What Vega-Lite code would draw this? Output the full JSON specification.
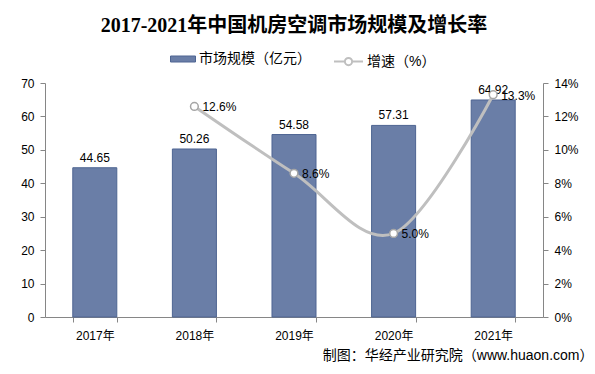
{
  "$schema": "https://vega.github.io/schema/vega-lite/v6.json",
  "autosize": {"type": "none"},
  "width": 498,
  "height": 234,
  "padding": {"left": 45, "top": 83, "right": 52, "bottom": 57},
  "background": "white",
  "config": {
    "font": "Liberation Sans, Noto Sans CJK SC",
    "view": {"stroke": null},
    "axis": {"grid": false, "domainColor": "#868686", "tickColor": "#868686", "labelColor": "#000000", "labelFontSize": 12, "tickSize": 5, "labelOverlap": false, "labelFont": "Liberation Sans, Noto Sans CJK SC"},
    "legend": {"labelFontSize": 14, "labelColor": "#000000", "labelOffset": 3, "labelFont": "Liberation Sans, Noto Sans CJK SC"}
  },
  "title": {
    "text": "2017-2021年中国机房空调市场规模及增长率",
    "font": "Liberation Serif, Noto Sans CJK SC",
    "fontSize": 20,
    "fontWeight": "bold",
    "color": "#000000",
    "anchor": "middle",
    "offset": 10
  },
  "data": {
    "values": [
      {"year": "2017年", "value": 44.65, "rate": null, "s1": "市场规模（亿元）", "s2": "增速（%）"},
      {"year": "2018年", "value": 50.26, "rate": 12.6, "s1": "市场规模（亿元）", "s2": "增速（%）"},
      {"year": "2019年", "value": 54.58, "rate": 8.6, "s1": "市场规模（亿元）", "s2": "增速（%）"},
      {"year": "2020年", "value": 57.31, "rate": 5.0, "s1": "市场规模（亿元）", "s2": "增速（%）"},
      {"year": "2021年", "value": 64.92, "rate": 13.3, "s1": "市场规模（亿元）", "s2": "增速（%）"}
    ]
  },
  "encoding": {
    "x": {
      "field": "year", "type": "nominal", "sort": null,
      "scale": {"paddingInner": 0.558, "paddingOuter": 0.279},
      "axis": {"labelAngle": 0, "tickBand": "extent", "labelPadding": 8, "title": "制图：华经产业研究院（www.huaon.com）", "titleFontSize": 14, "titleFontWeight": "normal", "titleColor": "#000000", "titleAnchor": "end", "titleAlign": "right", "titleX": 548, "titleY": 31, "titleFont": "Liberation Sans, Noto Sans CJK SC"}
    }
  },
  "layer": [
    {
      "encoding": {
        "y": {"field": "value", "type": "quantitative", "scale": {"domain": [0, 70]}, "axis": {"title": null, "values": [0, 10, 20, 30, 40, 50, 60, 70], "labelPadding": 6}}
      },
      "layer": [
        {
          "mark": {"type": "bar", "stroke": "#4e6592", "strokeWidth": 1},
          "encoding": {
            "color": {"field": "s1", "type": "nominal", "scale": {"range": ["#6a7ea7"]}, "legend": {"title": null, "orient": "none", "legendX": 125, "legendY": -37, "symbolType": "M-1,-0.24H1V0.24H-1Z", "symbolSize": 625, "symbolStrokeColor": "#4e6592", "symbolStrokeWidth": 1}}
          }
        },
        {
          "mark": {"type": "text", "dy": -10, "fontSize": 12, "color": "#000000"},
          "encoding": {
            "text": {"field": "value", "type": "quantitative", "format": ".2f"}
          }
        }
      ]
    },
    {
      "transform": [{"filter": "datum.rate != null"}, {"calculate": "format(datum.rate, '.1f') + '%'", "as": "rateLabel"}],
      "encoding": {
        "y": {"field": "rate", "type": "quantitative", "scale": {"domain": [0, 14]}, "axis": {"orient": "right", "title": null, "values": [0, 2, 4, 6, 8, 10, 12, 14], "labelExpr": "datum.value + '%'", "labelPadding": 6}}
      },
      "layer": [
        {
          "mark": {"type": "line", "interpolate": "cardinal", "strokeWidth": 3},
          "encoding": {
            "stroke": {"field": "s2", "type": "nominal", "scale": {"range": ["#bfbfbf"]}, "legend": {"title": null, "orient": "none", "legendX": 288, "legendY": -37, "symbolType": "M-1,0H-0.25M0.25,0H1M0.25,0A0.25,0.25 0 1,1 -0.25,0A0.25,0.25 0 1,1 0.25,0", "symbolSize": 841, "symbolFillColor": "#ffffff", "symbolStrokeWidth": 2}}
          }
        },
        {
          "mark": {"type": "point", "filled": true, "fill": "#ffffff", "stroke": "#a6a6a6", "strokeWidth": 1.5, "size": 60, "opacity": 1}
        },
        {
          "mark": {"type": "text", "align": "left", "dx": 8, "dy": 1, "fontSize": 12, "color": "#000000"},
          "encoding": {
            "text": {"field": "rateLabel", "type": "nominal"}
          }
        }
      ]
    }
  ],
  "resolve": {"scale": {"y": "independent", "color": "independent", "stroke": "independent"}}
}
